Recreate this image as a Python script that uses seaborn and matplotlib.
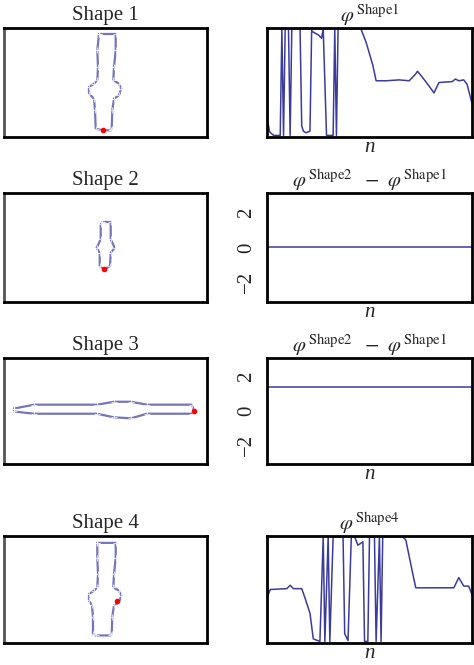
import numpy as np
import pandas as pd
import matplotlib
matplotlib.use("Agg")
import matplotlib.pyplot as plt
import seaborn as sns

sns.set_theme(style="white")
plt.rcParams['font.family'] = ['Liberation Serif', 'DejaVu Serif']
plt.rcParams['mathtext.fontset'] = 'stix'

shape_titles = ["Shape 1", "Shape 2", "Shape 3", "Shape 4"]
phase_titles = [r"$\varphi^{\,\mathrm{Shape1}}$",
                r"$\varphi^{\,\mathrm{Shape2}}\ \ -\ \varphi^{\,\mathrm{Shape1}}$",
                r"$\varphi^{\,\mathrm{Shape2}}\ \ -\ \varphi^{\,\mathrm{Shape1}}$",
                r"$\varphi^{\,\mathrm{Shape4}}$"]

shape1_x = [95, 111.7, 111.7, 110, 109.3, 115, 117.3, 115, 110, 108.3, 107.7, 106.7, 98.3, 91.7, 91, 90, 85, 85, 90, 93.3, 94, 93.3, 95]
shape1_y = [103, 103, 86.7, 70, 56.7, 53.3, 48.3, 41.7, 38.3, 26.7, 8.3, 6.7, 6.7, 8.3, 26.7, 38.3, 43.3, 50, 53.3, 56.7, 70, 86.7, 103]
shape1_red = (99, 7)

shape2_x = [98.3, 106.7, 106.7, 110.7, 106.7, 106, 100.7, 95.7, 95.7, 92.7, 96.7, 96.7, 98.3]
shape2_y = [80, 80, 62.7, 54.3, 49.3, 36, 32.7, 36, 49.3, 54.3, 62.7, 77.7, 80]
shape2_red = (100, 32.7)

shape3_x = [10, 30, 93, 110, 127, 143, 188, 190, 188, 143, 127, 110, 93, 30, 10, 10]
shape3_y = [57, 61, 61, 64, 64, 61, 61, 55, 51.7, 51.7, 47, 48, 51.7, 51.7, 54, 57]
shape3_red = (190, 55)

shape4_x = [93.3, 111.7, 111.7, 110, 109.3, 115, 117.3, 115, 110, 108.3, 107.7, 106.7, 91.7, 89, 89, 88, 85, 85, 90, 93.3, 94, 93.3, 93.3]
shape4_y = [102, 102, 86.7, 70, 56.7, 53.3, 48.3, 41.7, 38.3, 26.7, 9, 7.7, 7.7, 9, 26.7, 38.3, 43.3, 50, 53.3, 56.7, 70, 86.7, 102]
shape4_red = (113.3, 42.7)

phi1_n = [0, 8, 20, 40, 45, 50, 55, 65, 70, 75, 100, 105, 110, 118, 130, 135, 140, 155, 165, 170, 180, 200, 205, 210, 215,
          280, 285, 300, 320, 330, 360, 400, 430, 450, 455, 470, 490, 505, 520, 560, 570, 580, 595, 605, 620]
phi1_v = [-2.0, -2.85, -3.05, -3.05, 3.1, -3.05, 3.1, 3.1, -3.05, 3.1, 3.1, -2.5, -2.8, -2.9, -2.8, 3.0, 2.9, 2.75, 2.55, 3.1,
          -3.05, -3.05, 3.1, -3.05, 3.1, 3.1, 3.05, 2.3, 1.0, 0.1, 0.1, 0.15, 0.1, 0.5, 0.65, 0.3, -0.2, -0.6, 0.0, 0.05, 0.2,
          0.1, 0.15, -0.1, -1.2]

phi2_n = [0, 620]
phi2_v = [0.0, 0.0]

phi3_n = [0, 620]
phi3_v = [1.45, 1.45]

phi4_n = [0, 10, 60, 70, 80, 105, 115, 130, 140, 160, 170, 175, 185, 190, 200, 230, 235, 245, 255, 265, 275, 290, 295, 305,
          310, 325, 330, 340, 345, 350, 410, 420, 440, 450, 500, 565, 580, 595, 610, 620]
phi4_v = [-0.5, 0.0, 0.05, 0.25, 0.05, 0.05, -0.5, -1.4, -2.9, -3.05, 3.1, -3.05, 3.1, -3.05, 3.1, 3.1, -2.6, -3.0, 3.1, 3.1,
          2.6, 2.8, -3.05, -3.05, 3.1, 3.1, -3.05, 3.1, -3.05, 3.1, 3.1, 2.9, 1.0, 0.1, 0.1, 0.1, 0.7, 0.2, 0.2, -0.3]

shapes = [(shape1_x, shape1_y, shape1_red), (shape2_x, shape2_y, shape2_red),
          (shape3_x, shape3_y, shape3_red), (shape4_x, shape4_y, shape4_red)]
phis = [(phi1_n, phi1_v), (phi2_n, phi2_v), (phi3_n, phi3_v), (phi4_n, phi4_v)]

W, H = 474, 665
fig = plt.figure(figsize=(W / 100, H / 100), dpi=100)
rows = [(28, 137), (193, 302), (358, 464), (536, 643)]
col = "#3b3b9c"

def box(x0, x1, y0, y1):
    return [x0 / W, 1 - y1 / H, (x1 - x0) / W, (y1 - y0) / H]

for i, (y0, y1) in enumerate(rows):
    axl = fig.add_axes(box(4, 207, y0, y1))
    sx, sy, red = shapes[i]
    df = pd.DataFrame({"x": sx, "y": sy})
    sns.lineplot(data=df, x="x", y="y", sort=False, estimator=None, ax=axl, color=col, lw=1.6,
                 marker="+", markersize=5, markeredgewidth=0.8, alpha=0.7)
    axl.plot([red[0]], [red[1]], "o", color="red", ms=3)
    axl.set_xlim(0, 203)
    axl.set_ylim(0, 109)
    axl.set_xticks([]); axl.set_yticks([])
    axl.set_xlabel(""); axl.set_ylabel("")
    for s in axl.spines.values():
        s.set_linewidth(2); s.set_color("black")
    axl.spines["left"].set_color("#555555")
    axl.set_title(shape_titles[i], fontsize=15, pad=6)

    axr = fig.add_axes(box(267, 472, y0, y1))
    n, v = phis[i]
    dfp = pd.DataFrame({"n": n, "v": v})
    sns.lineplot(data=dfp, x="n", y="v", sort=False, estimator=None, ax=axr, color=col, lw=1.1)
    axr.set_xlim(0, 620)
    axr.set_ylim(-np.pi, np.pi)
    axr.set_xticks([])
    axr.set_ylabel("")
    axr.set_xlabel("n", fontsize=15, style="italic", labelpad=1)
    if i in (1, 2):
        axr.set_yticks([-2, 0, 2])
        axr.set_yticklabels(["\u22122", "0", "2"], rotation=90, va="center", fontsize=15)
        axr.tick_params(axis="y", direction="in", length=3, pad=8)
    else:
        axr.set_yticks([])
    for s in axr.spines.values():
        s.set_linewidth(2); s.set_color("black")
    axr.set_title(phase_titles[i], fontsize=15, pad=4)

fig.savefig("out.png", dpi=100)
